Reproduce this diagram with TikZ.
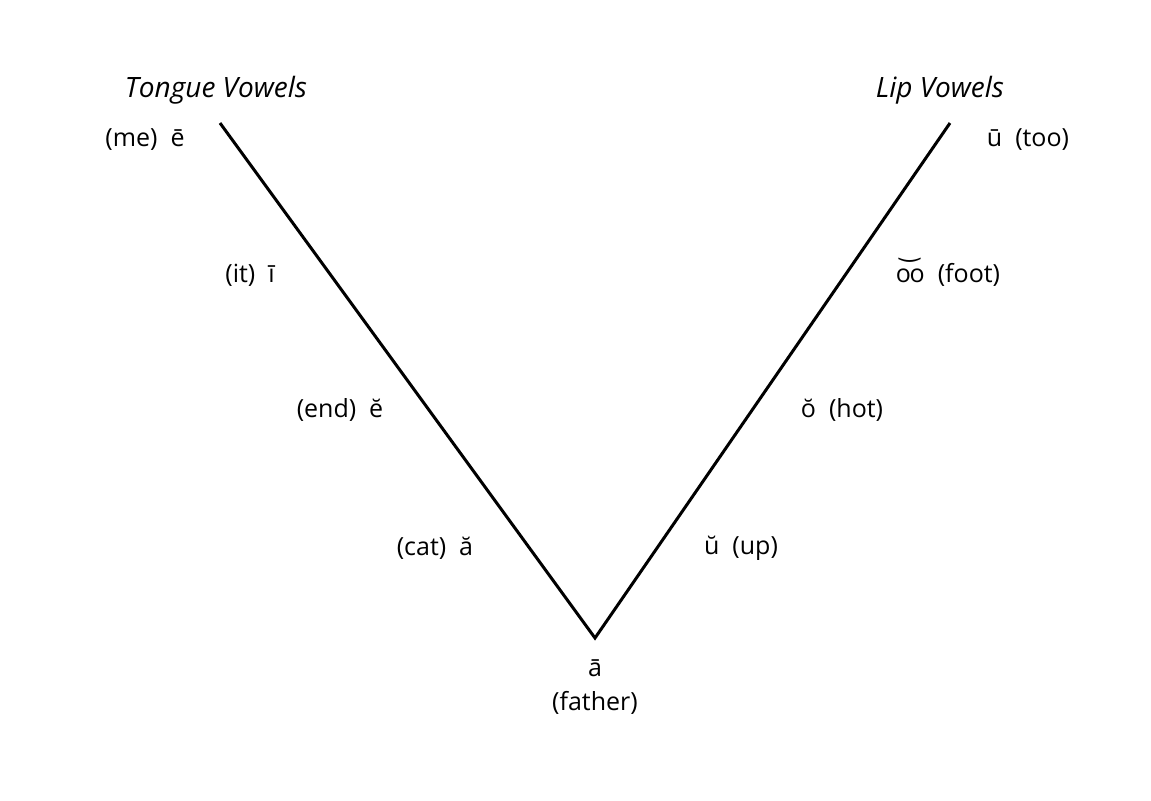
\documentclass[tikz,border=0pt]{standalone}
\usepackage{fontspec}
\setmainfont{Open Sans}
\newfontfamily\accfont{DejaVu Sans}
\usetikzlibrary{positioning}
\newcommand{\oobreve}{o\kern-0.05em{\accfont\char"035D}o}
\begin{document}
\begin{tikzpicture}[x=0.5pt,y=-0.5pt]
                    \tikzstyle{every node}=[inner sep=0,font=\fontsize{12.5}{14}\selectfont]
                    \tikzstyle{note}=[draw=none,fill=none]
                    \tikzstyle{title}=[note,font=\fontsize{14}{16}\selectfont\itshape]
                    \tikzstyle{vline}=[line width=1.5pt,line join=miter]
                    {
                        \useasboundingbox (0,0) rectangle (1151,800);

                        \node[title] (labelt) at (216, 90) {Tongue Vowels};
                        \node[title] (labell) at (940, 90) {Lip Vowels};

                        \coordinate (tl) at (220, 123);
                        \coordinate (bot) at (595, 638);
                        \coordinate (tr) at (950, 123);

                        \draw[vline] (tl) -- (bot) -- (tr);

                        \node[note] (me) at (145, 140) {(me)\ \ ē};
                        \node[note] (it) at (250, 275) {(it)\ \ ī};
                        \node[note] (end) at (340, 410) {(end)\ \ ĕ};
                        \node[note] (cat) at (435, 548) {(cat)\ \ ă};

                        \node[note] (a) at (595, 668) {ā};
                        \node[note] (father) [below=7pt of a] {(father)};

                        \node[note] (up) at (741, 548) {ŭ\ \ (up)};
                        \node[note] (hot) at (842, 410) {ŏ\ \ (hot)};
                        \node[note] (foot) at (948, 272) {\oobreve\ \ (foot)};
                        \node[note] (too) at (1028, 140) {ū\ \ (too)};
                    }
                \end{tikzpicture}
\end{document}
